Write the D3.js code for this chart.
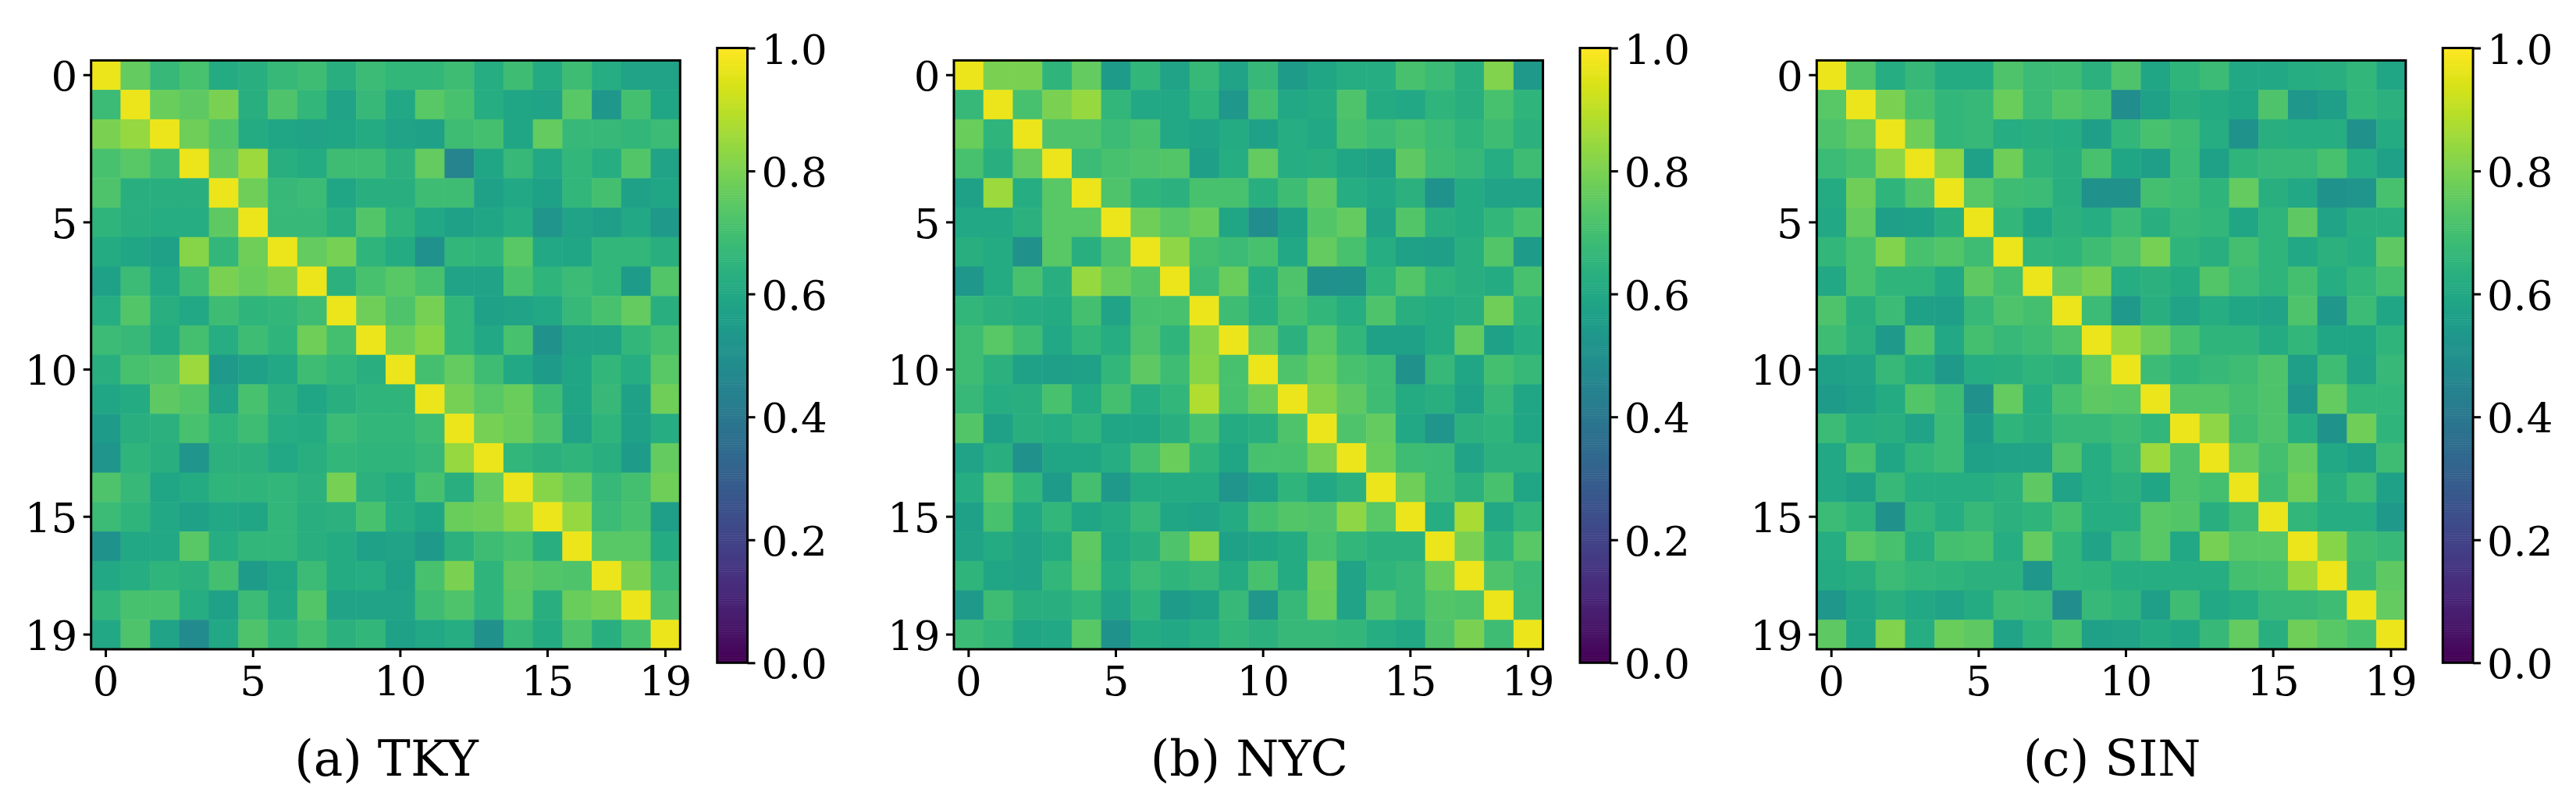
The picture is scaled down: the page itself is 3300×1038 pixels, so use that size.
<!DOCTYPE html>
<html>
<head>
<meta charset="utf-8">
<script src="https://d3js.org/d3.v7.min.js"></script>
<style>
  html, body { margin: 0; background: #fff; }
  text { font-family: "DejaVu Serif", serif; fill: #000; }
</style>
</head>
<body>
<svg id="chart" width="3300" height="1038"></svg>
<script>
var cellLabels = d3.range(20);
var axisTicks = [0, 5, 10, 15, 19];
var colorTicks = [0, 0.2, 0.4, 0.6, 0.8, 1];
var panelTitles = ["(a) TKY", "(b) NYC", "(c) SIN"];

var tkyValues = [
  [.97,.76,.67,.71,.61,.63,.67,.69,.63,.68,.66,.66,.69,.62,.69,.61,.69,.62,.58,.58],
  [.68,.97,.77,.75,.80,.63,.72,.66,.58,.67,.60,.74,.71,.62,.59,.58,.74,.53,.70,.59],
  [.80,.84,.97,.78,.73,.61,.59,.58,.59,.61,.58,.57,.69,.70,.59,.76,.67,.67,.66,.68],
  [.71,.74,.69,.97,.76,.85,.63,.61,.69,.69,.64,.76,.45,.59,.67,.60,.66,.62,.73,.58],
  [.72,.63,.63,.63,.97,.78,.67,.68,.59,.63,.63,.69,.69,.57,.60,.57,.66,.70,.57,.59],
  [.65,.63,.62,.62,.75,.97,.67,.67,.63,.73,.65,.60,.57,.59,.62,.52,.58,.56,.60,.54],
  [.61,.59,.57,.82,.66,.78,.97,.76,.79,.65,.61,.50,.66,.65,.74,.60,.59,.66,.66,.63],
  [.57,.68,.60,.69,.80,.77,.80,.97,.64,.71,.74,.71,.58,.58,.71,.65,.68,.66,.55,.73],
  [.62,.73,.63,.60,.69,.65,.66,.69,.97,.78,.72,.79,.66,.57,.58,.60,.67,.71,.76,.63],
  [.68,.67,.61,.70,.62,.69,.65,.78,.70,.97,.77,.82,.66,.60,.71,.50,.58,.58,.66,.70],
  [.63,.71,.72,.85,.54,.57,.60,.69,.66,.63,.97,.70,.76,.69,.60,.55,.59,.66,.62,.74],
  [.59,.61,.75,.73,.58,.71,.64,.59,.63,.65,.65,.97,.79,.74,.77,.69,.59,.67,.57,.78],
  [.55,.63,.64,.71,.65,.69,.62,.61,.68,.66,.66,.69,.97,.79,.77,.72,.58,.65,.57,.62],
  [.52,.65,.63,.52,.64,.64,.60,.63,.66,.65,.65,.67,.84,.97,.66,.64,.65,.63,.55,.76],
  [.72,.67,.59,.61,.65,.65,.66,.64,.79,.64,.61,.71,.63,.76,.97,.82,.77,.67,.70,.78],
  [.68,.65,.60,.57,.60,.59,.66,.63,.64,.71,.62,.59,.77,.78,.83,.97,.84,.68,.71,.56],
  [.51,.60,.60,.74,.62,.66,.66,.63,.61,.57,.58,.54,.64,.69,.71,.63,.97,.74,.74,.61],
  [.60,.62,.65,.64,.70,.55,.59,.68,.61,.62,.57,.71,.80,.65,.75,.73,.72,.97,.80,.68],
  [.66,.71,.71,.62,.57,.68,.60,.73,.58,.58,.58,.69,.72,.65,.74,.63,.77,.79,.97,.72],
  [.60,.72,.58,.48,.60,.72,.65,.70,.64,.66,.57,.60,.62,.50,.67,.61,.72,.63,.71,.97]
];

var nycValues = [
  [.97,.80,.80,.65,.76,.55,.66,.58,.67,.58,.67,.55,.59,.62,.62,.71,.68,.63,.81,.54],
  [.67,.97,.71,.80,.84,.66,.60,.60,.65,.53,.70,.60,.61,.72,.61,.60,.65,.63,.71,.65],
  [.77,.65,.97,.72,.72,.68,.71,.60,.58,.61,.57,.62,.60,.71,.68,.71,.68,.65,.69,.64],
  [.71,.63,.76,.97,.68,.71,.72,.73,.56,.62,.76,.62,.63,.59,.57,.75,.69,.67,.62,.69],
  [.57,.85,.62,.74,.97,.72,.65,.64,.71,.71,.63,.69,.75,.62,.60,.64,.51,.61,.58,.58],
  [.60,.60,.64,.74,.74,.97,.78,.74,.77,.59,.49,.57,.73,.76,.58,.73,.63,.61,.66,.71],
  [.63,.61,.50,.74,.63,.72,.97,.83,.70,.68,.71,.60,.76,.71,.62,.57,.56,.63,.73,.55],
  [.53,.61,.71,.63,.84,.77,.73,.97,.68,.77,.62,.72,.50,.51,.65,.73,.65,.63,.61,.71],
  [.66,.64,.62,.61,.70,.58,.71,.71,.97,.69,.63,.70,.66,.62,.72,.63,.61,.63,.78,.65],
  [.69,.74,.69,.60,.66,.62,.72,.65,.81,.97,.75,.64,.74,.66,.57,.57,.61,.76,.57,.62],
  [.69,.64,.57,.56,.57,.66,.75,.69,.82,.71,.97,.72,.77,.71,.69,.50,.67,.59,.70,.67],
  [.67,.62,.63,.71,.61,.70,.62,.66,.88,.71,.77,.97,.81,.75,.69,.61,.63,.57,.67,.59],
  [.73,.57,.63,.62,.65,.59,.59,.63,.71,.61,.63,.72,.97,.72,.76,.60,.52,.64,.65,.59],
  [.58,.63,.50,.59,.59,.62,.70,.77,.65,.59,.71,.71,.79,.97,.77,.69,.68,.58,.64,.64],
  [.62,.74,.66,.55,.70,.54,.61,.61,.61,.52,.57,.65,.60,.64,.97,.78,.68,.64,.71,.59],
  [.57,.71,.60,.66,.59,.61,.67,.59,.58,.61,.70,.73,.72,.83,.74,.97,.62,.87,.60,.66],
  [.58,.61,.58,.61,.75,.60,.63,.72,.82,.57,.59,.61,.71,.66,.64,.64,.97,.80,.65,.74],
  [.65,.59,.58,.66,.74,.62,.68,.65,.67,.61,.71,.61,.78,.58,.65,.67,.77,.97,.72,.68],
  [.54,.69,.63,.63,.66,.58,.65,.55,.57,.67,.53,.67,.77,.58,.72,.67,.73,.72,.97,.69],
  [.68,.66,.59,.60,.74,.51,.61,.60,.62,.66,.64,.67,.67,.66,.62,.60,.72,.80,.69,.97]
];

var sinValues = [
  [.97,.73,.62,.67,.61,.61,.72,.68,.69,.64,.72,.59,.65,.68,.60,.60,.62,.63,.66,.59],
  [.74,.97,.80,.71,.66,.67,.77,.68,.73,.71,.49,.57,.63,.61,.59,.72,.53,.56,.66,.64],
  [.72,.76,.97,.78,.66,.67,.62,.63,.62,.56,.66,.71,.69,.62,.51,.63,.62,.62,.50,.61],
  [.68,.71,.83,.97,.83,.57,.78,.65,.63,.71,.59,.56,.68,.57,.65,.67,.67,.71,.62,.57],
  [.61,.78,.65,.73,.97,.74,.69,.68,.63,.50,.50,.70,.69,.65,.76,.63,.60,.51,.52,.71],
  [.60,.76,.56,.57,.63,.97,.66,.59,.64,.62,.68,.63,.67,.66,.59,.65,.75,.58,.63,.63],
  [.66,.71,.81,.71,.73,.69,.97,.66,.65,.69,.72,.79,.65,.63,.70,.65,.60,.64,.62,.75],
  [.60,.71,.65,.65,.60,.75,.70,.97,.76,.80,.62,.64,.61,.73,.68,.65,.70,.62,.66,.70],
  [.72,.63,.68,.57,.56,.67,.72,.70,.97,.68,.54,.63,.58,.62,.59,.58,.72,.53,.68,.59],
  [.69,.64,.54,.73,.60,.70,.67,.69,.72,.97,.84,.78,.71,.65,.65,.61,.66,.59,.59,.65],
  [.57,.58,.67,.61,.54,.62,.63,.65,.64,.76,.97,.68,.65,.67,.69,.72,.56,.69,.58,.67],
  [.55,.57,.61,.73,.69,.50,.76,.62,.71,.75,.74,.97,.73,.73,.70,.72,.53,.76,.66,.66],
  [.68,.62,.63,.58,.68,.55,.65,.63,.67,.67,.69,.66,.97,.83,.69,.72,.62,.51,.78,.65],
  [.60,.71,.59,.66,.68,.57,.58,.58,.72,.62,.67,.85,.72,.97,.76,.70,.76,.60,.57,.69],
  [.60,.57,.67,.62,.62,.62,.64,.75,.58,.62,.64,.59,.72,.70,.97,.69,.78,.63,.69,.57],
  [.68,.65,.50,.66,.62,.67,.64,.65,.70,.62,.62,.74,.73,.63,.69,.97,.66,.62,.62,.54],
  [.62,.74,.71,.62,.70,.71,.62,.76,.66,.58,.68,.74,.60,.79,.74,.74,.97,.82,.69,.67],
  [.61,.63,.68,.66,.65,.64,.64,.53,.66,.65,.62,.62,.62,.62,.70,.71,.84,.97,.67,.75],
  [.53,.59,.63,.60,.58,.61,.69,.68,.49,.67,.65,.56,.69,.60,.62,.67,.67,.69,.97,.76],
  [.75,.59,.81,.62,.77,.75,.58,.65,.71,.57,.58,.61,.59,.67,.76,.63,.78,.74,.71,.97]
];

var panelValues = [tkyValues, nycValues, sinValues];

var panelStep = 1105.3;
var heatLeft = 116.7, heatSize = 754.6, heatTop = 77.4;
var barLeft = 918.7, barWidth = 38.8, barTop = 61.5, barBottom = 849.3;
var lineWidth = 3, tickLength = 8.5, fontSize = 53, titleSize = 63;

var color = d3.scaleSequential(d3.interpolateViridis).domain([0, 1]);
var svg = d3.select("#chart");

function styleAxis(g) {
    g.selectAll(".domain").remove();
    g.selectAll(".tick line").attr("stroke", "#000").attr("stroke-width", lineWidth);
    g.selectAll(".tick text").attr("font-size", fontSize).attr("font-family", null);
}

// labels beside a vertical axis sit a little lower than d3's default
function lowerLabels(g) {
    g.selectAll(".tick text").attr("dy", "0.37em");
}

panelValues.forEach(function (values, p) {
    var panel = svg.append("g").attr("transform", "translate(" + (p * panelStep) + ",0)");

    var x = d3.scaleBand().domain(cellLabels).range([heatLeft, heatLeft + heatSize]);
    var y = d3.scaleBand().domain(cellLabels).range([heatTop, heatTop + heatSize]);

    values.forEach(function (row, r) {
        panel.append("g").selectAll("rect")
            .data(row)
            .join("rect")
            .attr("x", function (d, c) { return x(c); })
            .attr("y", y(r))
            .attr("width", x.bandwidth() + 0.5)
            .attr("height", y.bandwidth() + 0.5)
            .attr("fill", function (d) { return color(d); });
    });

    panel.append("rect")
        .attr("x", heatLeft).attr("y", heatTop)
        .attr("width", heatSize).attr("height", heatSize)
        .attr("fill", "none").attr("stroke", "#000").attr("stroke-width", lineWidth);

    panel.append("g")
        .attr("transform", "translate(0," + (heatTop + heatSize) + ")")
        .call(d3.axisBottom(x).tickValues(axisTicks).tickSize(tickLength + 1.5).tickPadding(11))
        .call(styleAxis);

    panel.append("g")
        .attr("transform", "translate(" + heatLeft + ",0)")
        .call(d3.axisLeft(y).tickValues(axisTicks).tickSize(tickLength + 1.5).tickPadding(7.5))
        .call(styleAxis)
        .call(lowerLabels);

    // colorbar
    var bar = d3.scaleLinear().domain([0, 1]).range([barBottom, barTop]);
    panel.append("g").selectAll("rect")
        .data(d3.range(256))
        .join("rect")
        .attr("x", barLeft)
        .attr("y", function (d) { return bar((d + 1) / 256); })
        .attr("width", barWidth)
        .attr("height", Math.abs(bar(0) - bar(1)) / 256 + 0.5)
        .attr("fill", function (d) { return color(d / 255); });

    panel.append("rect")
        .attr("x", barLeft).attr("y", barTop)
        .attr("width", barWidth).attr("height", barBottom - barTop)
        .attr("fill", "none").attr("stroke", "#000").attr("stroke-width", lineWidth);

    panel.append("g")
        .attr("transform", "translate(" + (barLeft + barWidth) + ",0)")
        .call(d3.axisRight(bar).tickValues(colorTicks).tickFormat(d3.format(".1f")).tickSize(tickLength + 1.5).tickPadding(8))
        .call(styleAxis)
        .call(lowerLabels);

    panel.append("text")
        .attr("x", heatLeft + heatSize / 2 + 1)
        .attr("y", 994)
        .attr("text-anchor", "middle")
        .attr("font-size", titleSize)
        .text(panelTitles[p]);
});
</script>
</body>
</html>
